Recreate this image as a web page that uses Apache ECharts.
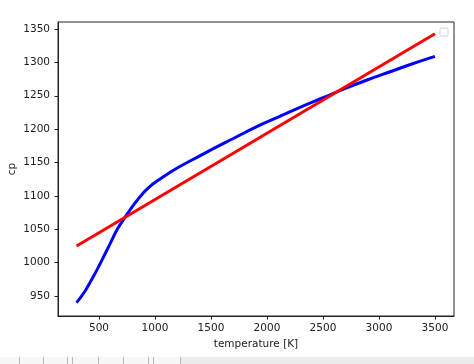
<!DOCTYPE html>
<html>
<head>
<meta charset="utf-8">
<script src="https://cdn.jsdelivr.net/npm/echarts@6/dist/echarts.min.js"></script>
<style>html,body{margin:0;padding:0;background:#fff}#c{width:474px;height:364px}</style>
</head>
<body>
<div id="c"></div>
<script>
// Data
var blueT  = [300, 370, 429, 488, 548, 607, 667, 741, 816, 905, 953, 1000, 1143, 1222, 1400, 1500, 1700, 1900, 2100, 2300, 2500, 2700, 2900, 3100, 3300, 3500];
var blueCp = [940, 956, 973, 991, 1011, 1031, 1051, 1070, 1088, 1106, 1114, 1120, 1136, 1144, 1160, 1169, 1186, 1203, 1218, 1233, 1247, 1261, 1274, 1286, 1298, 1309];
var redT   = [300, 3500];
var redCp  = [1025, 1343];
var xTickValues = [500, 1000, 1500, 2000, 2500, 3000, 3500];
var yTickValues = [950, 1000, 1050, 1100, 1150, 1200, 1250, 1300, 1350];
var xName = 'temperature [K]';
var yName = 'cp';

function zip(a, b) { return a.map(function (v, i) { return [v, b[i]]; }); }
function plain(v) { return String(v); }

var chart = echarts.init(document.getElementById('c'), null, {renderer: 'canvas'});
var font = 'DejaVu Sans';
chart.setOption({
  animation: false,
  backgroundColor: '#fff',
  grid: {left: 58, right: 20, top: 22, bottom: 48, containLabel: false, outerBoundsMode: 'none',
         show: true, borderColor: '#222', borderWidth: 1, backgroundColor: 'transparent'},
  xAxis: {
    type: 'value', min: 134, max: 3670,
    name: xName, nameLocation: 'middle', nameGap: 23, nameMoveOverlap: false,
    nameTextStyle: {fontFamily: font, fontSize: 10.5, color: '#222'},
    axisLine: {show: true, lineStyle: {color: '#222', width: 1}},
    axisTick: {show: true, inside: false, length: 3.5, lineStyle: {color: '#222'}, customValues: xTickValues},
    axisLabel: {fontFamily: font, fontSize: 10.5, color: '#222', margin: 7, customValues: xTickValues, formatter: plain},
    splitLine: {show: false}
  },
  yAxis: {
    type: 'value', min: 920, max: 1360.5,
    name: yName, nameLocation: 'middle', nameGap: 40, nameRotate: 90, nameMoveOverlap: false,
    nameTextStyle: {fontFamily: font, fontSize: 10.5, color: '#222'},
    axisLine: {show: true, lineStyle: {color: '#222', width: 1}},
    axisTick: {show: true, inside: false, length: 3.5, lineStyle: {color: '#222'}, customValues: yTickValues},
    axisLabel: {fontFamily: font, fontSize: 10.5, color: '#222', margin: 8, customValues: yTickValues, formatter: plain},
    splitLine: {show: false}
  },
  series: [
    {type: 'line', data: zip(blueT, blueCp), smooth: 0.4, showSymbol: false, symbol: 'none',
     lineStyle: {color: '#0000ff', width: 3}},
    {type: 'line', data: zip(redT, redCp), showSymbol: false, symbol: 'none',
     lineStyle: {color: '#ff0000', width: 3}}
  ],
  graphic: [
    {type: 'rect', shape: {x: 440, y: 28, width: 8, height: 8, r: 1.5}, style: {fill: '#fff', stroke: '#d0d0d0', lineWidth: 1}, z: 100},
    {type: 'rect', shape: {x: 0, y: 357, width: 474, height: 7}, style: {fill: '#f7f7f7'}, z: 0},
    {type: 'rect', shape: {x: 180, y: 357, width: 294, height: 7}, style: {fill: '#ececec'}, z: 0},
    {type: 'group', children: [19, 43, 67, 72, 98, 123, 148, 153, 180].map(function (x) {
      return {type: 'line', shape: {x1: x + 0.5, y1: 357, x2: x + 0.5, y2: 364}, style: {stroke: '#b8b8b8', lineWidth: 1}};
    })}
  ]
});
</script>
</body>
</html>
